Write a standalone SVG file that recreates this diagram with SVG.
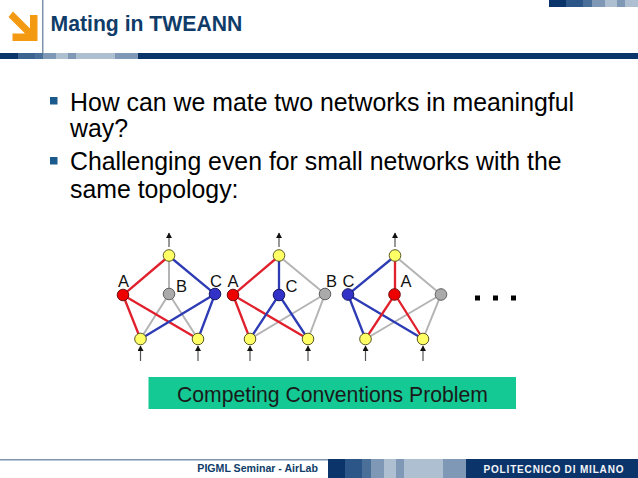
<svg xmlns="http://www.w3.org/2000/svg" width="638" height="478" viewBox="0 0 638 478">
<style>
text{font-family:"Liberation Sans",Arial,sans-serif}
.body{font-size:24.85px;fill:#000}
.lab{font-size:16.5px;fill:#111}
.r{stroke:#e0202c;stroke-width:2.3;fill:none}
.b{stroke:#2d3cb4;stroke-width:2.3;fill:none}
.g{stroke:#b4b4b4;stroke-width:2;fill:none}
.a{stroke:#555;stroke-width:1.2;fill:none;marker-end:url(#ah)}
.y{fill:#ffff66;stroke:#5a5a20;stroke-width:1}
.nr{fill:#ee0000;stroke:#701010;stroke-width:1}
.nb{fill:#3232c8;stroke:#181860;stroke-width:1}
.ng{fill:#aaaaaa;stroke:#606060;stroke-width:1}
</style>
<defs><marker id="ah" markerUnits="userSpaceOnUse" markerWidth="6" markerHeight="7" refX="5" refY="3" orient="auto"><path d="M0 0L5.500 3L0 6z" fill="#111"/></marker></defs>
<rect width="638" height="478" fill="#fff"/>
<g id="header">
<path d="M8.500 17L13 11.500L30 28.500V15H37.500V41H12.500V33.500H25L8.500 17z" fill="#f39a12"/>
<rect x="42" y="0" width="1.500" height="53" fill="#7d94ae"/>
<text x="50.500" y="31" font-size="21.200px" font-weight="700" fill="#0f3c68">Mating in TWEANN</text>
<rect x="0" y="53" width="638" height="6" fill="#0b346b"/>
<rect x="18" y="53" width="17" height="6" fill="#3d6390"/>
<rect x="35" y="53" width="8" height="6" fill="#4a6f99"/>
<rect x="43" y="53" width="13" height="6" fill="#7f98b5"/>
<rect x="56" y="53" width="12" height="6" fill="#aebfd1"/>
<rect x="68" y="53" width="8" height="6" fill="#7f98b5"/>
<rect x="76" y="53" width="39" height="6" fill="#aebfd1"/>
<rect x="115" y="53" width="23" height="6" fill="#7f98b5"/>
<rect x="549" y="0" width="17" height="7" fill="#0b346b"/>
<rect x="566" y="0" width="17" height="7" fill="#2c5688"/>
<rect x="583" y="0" width="9" height="7" fill="#4a6f99"/>
<rect x="592" y="0" width="13" height="7" fill="#7f98b5"/>
<rect x="605" y="0" width="12" height="7" fill="#aebfd1"/>
<rect x="617" y="0" width="8" height="7" fill="#7f98b5"/>
<rect x="625" y="0" width="13" height="7" fill="#aebfd1"/>
</g>
<g id="bullets">
<rect x="50" y="97" width="7.500" height="7.500" fill="#1a5a8c"/>
<text class="body" x="70" y="111">How can we mate two networks in meaningful</text>
<text class="body" x="70" y="137">way?</text>
<rect x="50" y="157" width="7.500" height="7.500" fill="#1a5a8c"/>
<text class="body" x="70" y="170">Challenging even for small networks with the</text>
<text class="body" x="70" y="198">same topology:</text>
</g>
<g id="connectors">
<path class="a" d="M169 247V233"/><path class="a" d="M140.500 361V346"/><path class="a" d="M198 361V346"/>
<path class="g" d="M169 256V294L140.500 339M169 294L198 339"/>
<path class="r" d="M169 256L123 295L140.500 339M123 295L198 339"/>
<path class="b" d="M169 256L215 294L198 339M215 294L140.500 339"/>

<path class="a" d="M279 247V233"/><path class="a" d="M250 361V346"/><path class="a" d="M308 361V346"/>
<path class="g" d="M279 256L325 294L308 339M325 294L250 339"/>
<path class="r" d="M279 256L233 295L250 339M233 295L308 339"/>
<path class="b" d="M279 256V295L250 339M279 295L308 339"/>

<path class="a" d="M395 247V233"/><path class="a" d="M365.500 361V346"/><path class="a" d="M423 361V346"/>
<path class="g" d="M395 256L441 294.500L423 339M441 294.500L365.500 339"/>
<path class="b" d="M395 256L348 294.500L365.500 339M348 294.500L423 339"/>
<path class="r" d="M395 256V294.500L365.500 339M395 294.500L423 339"/>
</g>
<g id="net1">
<circle class="y" cx="169" cy="255.500" r="5.800"/><circle class="nr" cx="123" cy="295" r="5.800"/><circle class="ng" cx="169" cy="294" r="5.800"/><circle class="nb" cx="215" cy="294" r="5.800"/><circle class="y" cx="140.500" cy="339" r="5.800"/><circle class="y" cx="198" cy="339" r="5.800"/>
<text class="lab" x="118" y="287">A</text><text class="lab" x="176" y="292">B</text><text class="lab" x="210" y="287">C</text>
</g>
<g id="net2">
<circle class="y" cx="279" cy="255.500" r="5.800"/><circle class="nr" cx="233" cy="295" r="5.800"/><circle class="nb" cx="279" cy="295" r="5.800"/><circle class="ng" cx="325" cy="294" r="5.800"/><circle class="y" cx="250" cy="339" r="5.800"/><circle class="y" cx="308" cy="339" r="5.800"/>
<text class="lab" x="227.500" y="287">A</text><text class="lab" x="285.500" y="292">C</text><text class="lab" x="326" y="287">B</text>
</g>
<g id="net3">
<circle class="y" cx="395" cy="255.500" r="5.800"/><circle class="nb" cx="348" cy="294.500" r="5.800"/><circle class="nr" cx="394.500" cy="294.500" r="5.800"/><circle class="ng" cx="441" cy="294.500" r="5.800"/><circle class="y" cx="365.500" cy="339" r="5.800"/><circle class="y" cx="423" cy="339" r="5.800"/>
<text class="lab" x="342.500" y="287">C</text><text class="lab" x="400.500" y="287">A</text>
</g>
<g id="dots" fill="#000"><rect x="475" y="295.500" width="5" height="5"/><rect x="493" y="295.500" width="5" height="5"/><rect x="511" y="295.500" width="5" height="5"/></g>
<g id="caption"><rect x="148.500" y="377" width="367.500" height="32" fill="#14c993"/><text x="332.500" y="402" text-anchor="middle" font-size="21.200px" fill="#1a1a1a">Competing Conventions Problem</text></g>
<g id="footer">
<rect x="0" y="459" width="328" height="1.500" fill="#7d94ae"/>
<text x="318" y="472" text-anchor="end" font-size="10.600px" font-weight="700" fill="#0f3c68">PIGML Seminar - AirLab</text>
<rect x="328" y="459" width="310" height="19" fill="#0b346b"/>
<rect x="345" y="459" width="17" height="19" fill="#2c5688"/>
<rect x="362" y="459" width="9" height="19" fill="#4a6f99"/>
<rect x="371" y="459" width="13" height="19" fill="#7f98b5"/>
<rect x="384" y="459" width="12" height="19" fill="#aebfd1"/>
<rect x="396" y="459" width="8" height="19" fill="#7f98b5"/>
<rect x="404" y="459" width="39" height="19" fill="#aebfd1"/>
<rect x="443" y="459" width="23" height="19" fill="#7f98b5"/>
<text x="483.500" y="473" font-size="10px" font-weight="700" textLength="140" lengthAdjust="spacing" fill="#f4f6f8">POLITECNICO DI MILANO</text>
</g>
</svg>
